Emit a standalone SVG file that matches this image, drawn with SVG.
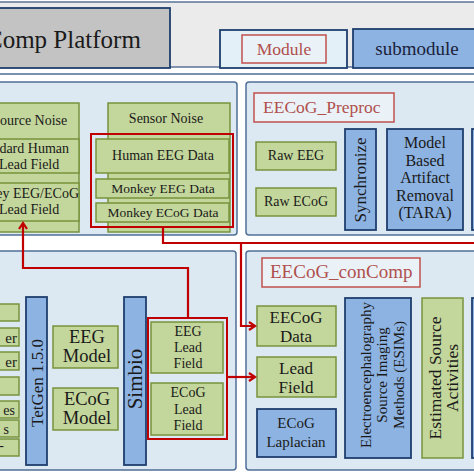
<svg xmlns="http://www.w3.org/2000/svg" width="474" height="474" viewBox="0 0 474 474">
<style>
text{font-family:"Liberation Serif","Times New Roman",serif;fill:#1a1a1a}
.c{text-anchor:middle}
.panel{fill:#dce9f3;stroke:#4f6f97;stroke-width:1.5}
.green{fill:#c3d69b;stroke:#77933c;stroke-width:1.5}
.blue{fill:#8db3e2;stroke:#1f3f6e;stroke-width:1.8}
.lbl{fill:#eaf2f8;stroke:#c0504d;stroke-width:1.5}
.red{fill:#b0504d}
.wire{fill:none;stroke:#c00000;stroke-width:2.2}
</style>
<defs>
<marker id="ah" markerWidth="10" markerHeight="10" refX="7" refY="5" orient="auto" markerUnits="userSpaceOnUse">
<path d="M1,1 L7,5 L1,9" fill="none" stroke="#c00000" stroke-width="2.2"/>
</marker>
</defs>
<rect x="0" y="0" width="474" height="474" fill="#ffffff"/>
<g id="header">
<rect x="-3" y="2" width="480" height="65" fill="#ebebeb" stroke="#5b7396" stroke-width="1.5"/>
<line x1="0" y1="74" x2="474" y2="74" stroke="#4f6f97" stroke-width="1.5"/>
<g id="platform"><rect x="-5" y="8" width="175" height="60" fill="#c3c3c3" stroke="#1f3f6e" stroke-width="1.8"/>
<text x="-14" y="48" font-size="25">Comp Platform</text></g>
<g id="legend-module"><rect x="220" y="30" width="127" height="38" fill="#e4f0f8" stroke="#1f3f6e" stroke-width="1.8"/>
<rect x="242" y="35" width="84" height="28" class="lbl"/>
<text x="284" y="55" font-size="17.5" class="c red">Module</text></g>
<g id="legend-submodule"><rect x="353" y="29" width="130" height="39" class="blue"/>
<text x="417" y="55" font-size="19" class="c" style="fill:#1b1f3a">submodule</text></g>
</g>
<g id="noise-panel">
<rect x="-5" y="82" width="242" height="153" rx="3" class="panel"/>
<g id="source-noise"><rect x="-10" y="103" width="89" height="129" class="green"/>
<text x="0" y="125" font-size="14">ource Noise</text>
<rect x="-14" y="139" width="93" height="34" class="green"/>
<text x="69" y="153" font-size="14" text-anchor="end">dard Human</text>
<text x="-1" y="169" font-size="14">Lead Field</text>
<rect x="-14" y="183" width="93" height="38" class="green"/>
<text x="79" y="198" font-size="14" text-anchor="end">ey EEG/ECoG</text>
<text x="-1" y="214" font-size="14">Lead Field</text></g>
<g id="sensor-noise"><rect x="108" y="103" width="122" height="129" class="green"/>
<text x="166" y="123" font-size="14" class="c">Sensor Noise</text>
<rect x="96" y="139" width="133" height="34" class="green"/>
<text x="163" y="160" font-size="14" class="c">Human EEG Data</text>
<rect x="96" y="179" width="133" height="19" class="green"/>
<text x="163" y="193" font-size="13.5" class="c">Monkey EEG Data</text>
<rect x="96" y="203" width="133" height="19" class="green"/>
<text x="163" y="217" font-size="13.5" class="c">Monkey ECoG Data</text>
<rect x="91" y="134" width="142" height="93" fill="none" stroke="#c00000" stroke-width="2"/></g>
</g>
<g id="preproc-panel">
<rect x="246" y="82" width="240" height="153" rx="3" class="panel"/>
<rect x="254" y="93" width="140" height="29" class="lbl"/>
<text x="263" y="113" font-size="17.5" class="red">EECoG_Preproc</text>
<g id="raw-eeg"><rect x="256" y="142" width="80" height="28" class="green"/><text x="296" y="160" font-size="14" class="c">Raw EEG</text></g>
<g id="raw-ecog"><rect x="256" y="188" width="80" height="28" class="green"/><text x="296" y="206" font-size="14" class="c">Raw ECoG</text></g>
<g id="synchronize"><rect x="345" y="129" width="31" height="101" class="blue"/><text transform="translate(366,180) rotate(-90)" font-size="17" class="c">Synchronize</text></g>
<g id="tara"><rect x="387" y="129" width="76" height="101" class="blue"/>
<text font-size="16" class="c"><tspan x="425" y="148">Model</tspan><tspan x="425" y="166">Based</tspan><tspan x="425" y="183">Artifact</tspan><tspan x="425" y="201">Removal</tspan><tspan x="425" y="218">(TARA)</tspan></text></g>
<rect x="472" y="129" width="20" height="101" class="blue"/>
</g>
<g id="model-panel">
<rect x="-5" y="251" width="241" height="219" rx="3" class="panel"/>
<rect x="-10" y="304" width="29" height="17" class="green"/>
<rect x="-10" y="328" width="29" height="18" class="green"/><text x="17" y="343" font-size="15" text-anchor="end">er</text>
<rect x="-10" y="352" width="29" height="18" class="green"/><text x="17" y="367" font-size="15" text-anchor="end">er</text>
<rect x="-10" y="377" width="29" height="18" class="green"/>
<rect x="-10" y="401" width="29" height="17" class="green"/><text x="15" y="415" font-size="14" text-anchor="end">es</text>
<rect x="-10" y="420" width="29" height="17" class="green"/><text x="9" y="434" font-size="14" text-anchor="end">s</text>
<rect x="-10" y="439" width="29" height="17" class="green"/><text x="4" y="450" font-size="14" text-anchor="end">-</text>
<g id="tetgen"><rect x="26" y="297" width="21" height="168" class="blue"/><text transform="translate(43,383) rotate(-90)" font-size="17" class="c">TetGen 1.5.0</text></g>
<g id="eeg-model"><rect x="53" y="326" width="65" height="42" class="green"/><text font-size="18.5" class="c"><tspan x="87" y="343">EEG</tspan><tspan x="87" y="362">Model</tspan></text></g>
<g id="ecog-model"><rect x="53" y="388" width="65" height="42" class="green"/><text font-size="18.5" class="c"><tspan x="87" y="405">ECoG</tspan><tspan x="87" y="424">Model</tspan></text></g>
<g id="simbio"><rect x="124" y="297" width="22" height="168" class="blue"/><text transform="translate(142,379) rotate(-90)" font-size="21" class="c">Simbio</text></g>
<g id="eeg-lf"><rect x="151" y="322" width="72" height="51" class="green"/><text font-size="14" class="c"><tspan x="188" y="336">EEG</tspan><tspan x="188" y="352">Lead</tspan><tspan x="188" y="368">Field</tspan></text></g>
<g id="ecog-lf"><rect x="151" y="383" width="72" height="52" class="green"/><text font-size="14" class="c"><tspan x="188" y="397">ECoG</tspan><tspan x="188" y="414">Lead</tspan><tspan x="188" y="430">Field</tspan></text></g>
<rect x="148" y="318" width="79" height="121" fill="none" stroke="#c00000" stroke-width="2"/>
</g>
<g id="concomp-panel">
<rect x="246" y="251" width="240" height="219" rx="3" class="panel"/>
<rect x="262" y="258" width="158" height="29" class="lbl"/>
<text x="270" y="278" font-size="19" class="red">EECoG_conComp</text>
<g id="eecog-data"><rect x="257" y="306" width="79" height="40" class="green"/><text font-size="17" class="c"><tspan x="296" y="323">EECoG</tspan><tspan x="296" y="342">Data</tspan></text></g>
<g id="lead-field"><rect x="257" y="357" width="79" height="40" class="green"/><text font-size="17" class="c"><tspan x="296" y="374">Lead</tspan><tspan x="296" y="393">Field</tspan></text></g>
<g id="laplacian"><rect x="257" y="409" width="79" height="48" class="blue"/><text font-size="15" class="c"><tspan x="296" y="428">ECoG</tspan><tspan x="296" y="447">Laplacian</tspan></text></g>
<g id="esims"><rect x="345" y="298" width="66" height="160" class="blue"/>
<text transform="translate(371,375) rotate(-90)" font-size="15" class="c">Electroencephalography</text>
<text transform="translate(387,375) rotate(-90)" font-size="15" class="c">Source Imaging</text>
<text transform="translate(404,375) rotate(-90)" font-size="15" class="c">Methods  (ESIMs)</text></g>
<g id="estimated"><rect x="422" y="298" width="41" height="160" class="green"/>
<text transform="translate(441,378) rotate(-90)" font-size="17.5" class="c">Estimated Source</text>
<text transform="translate(458,378) rotate(-90)" font-size="17.5" class="c">Activities</text></g>
<rect x="472" y="298" width="20" height="160" class="blue"/>
</g>
<g id="connectors">
<polyline class="wire" points="163,227 163,243 480,243"/>
<polyline class="wire" points="241,243 241,326 255,326" marker-end="url(#ah)"/>
<polyline class="wire" points="227,377 255,377" marker-end="url(#ah)"/>
<polyline class="wire" points="188,318 188,268 23,268 23,223" marker-end="url(#ah)"/>
</g>
</svg>
